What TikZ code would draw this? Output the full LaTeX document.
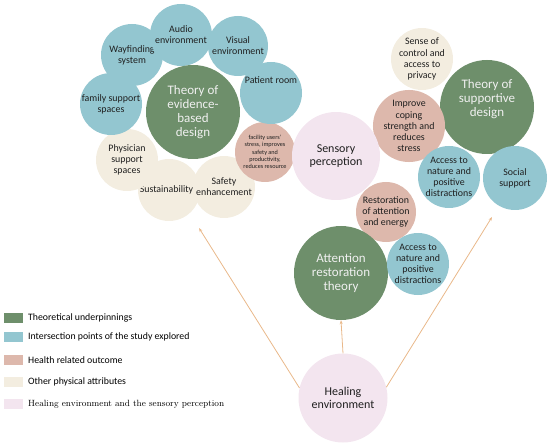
\documentclass[tikz,border=0pt]{standalone}
\usepackage{fontspec}
\setmainfont{Carlito}
\newfontfamily\legendserif{Latin Modern Roman}
\usetikzlibrary{arrows.meta}
\definecolor{theorygreen}{HTML}{6E8F6B}
\definecolor{pointblue}{HTML}{93C6D0}
\definecolor{outcomepink}{HTML}{DDB8AC}
\definecolor{attrcream}{HTML}{F3EDE0}
\definecolor{healinglilac}{HTML}{F3E5EF}
\definecolor{linktan}{HTML}{E9B88A}
\begin{document}
\begin{tikzpicture}[x=1pt, y=-1pt,
  bubble/.style = {circle, inner sep=0pt, align=center, text=black!88,
    minimum size=62pt, font=\fontsize{9.9}{11.1}\selectfont},
  theory/.style = {bubble, fill=theorygreen, minimum size=94pt, text=white!94!black,
    font=\fontsize{13}{14}\selectfont},
  point/.style = {bubble, fill=pointblue},
  outcome/.style = {bubble, fill=outcomepink},
  attribute/.style = {bubble, fill=attrcream},
  healing/.style = {bubble, fill=healinglilac, minimum size=89pt,
    font=\fontsize{12}{13.5}\selectfont},
  link/.style = {draw=linktan, line width=0.8pt, -{Stealth[length=4pt,width=3pt]}},
  swatch/.style = {rectangle, minimum width=19pt, minimum height=10pt, inner sep=0pt},
  legendtext/.style = {anchor=west, inner sep=0pt, font=\fontsize{9.8}{11}\selectfont}]
  \useasboundingbox (0,0) rectangle (550,444);

  \node[attribute] (sustain) at (169,190) {\\[-4pt]Sustainability\hspace*{5pt}};
  \node[attribute] (safety) at (224,187) {Safety\\enhancement};
  \node[attribute] (physician) at (127,160) {Physician\\support\\spaces};
  \node[outcome, minimum size=60pt, font=\fontsize{6.2}{7.3}\selectfont] (facility) at (265,152)
    {facility users'\\stress, improves\\safety and\\productivity,\\reduces resource};
  \node[point] (family) at (111,104) {family support\\spaces};
  \node[point] (wayfinding) at (132,55) {Wayfinding\\system};
  \node[point] (audio) at (181,35) {Audio\\environment};
  \node[point, minimum size=60pt] (visual) at (238,46) {Visual\\environment};
  \node[point] (patient) at (271,93) {Patient room\\[14pt]};
  \node[theory] (evidence) at (193,112) {Theory of\\evidence-\\based\\design};

  \node[attribute] (privacy) at (422,59) {Sense of\\control and\\access to\\privacy};
  \node[theory] (supportive) at (487,107) {Theory of\\supportive\\design\\[4pt]};
  \node[outcome] (coping) at (409,126) {Improve\\coping\\strength and\\reduces\\stress};
  \node[healing, minimum size=88pt] (sensory) at (336,156) {Sensory\\perception};
  \node[point] (nature) at (449,177) {Access to\\nature and\\positive\\distractions};
  \node[point, minimum size=64pt] (social) at (515,178) {Social\\support};
  \node[outcome, minimum size=60pt] (restoration) at (386,212) {Restoration\\of attention\\and energy};
  \node[theory] (attention) at (341,273) {Attention\\restoration\\theory};
  \node[point] (distraction) at (418,264) {Access to\\nature and\\positive\\distractions};
  \node[healing] (environment) at (343,398) {Healing\\environment};

  \coordinate (leftend) at (199,228);
  \coordinate (rightend) at (492,217);
  \draw[link] (environment.167) -- (leftend);
  \draw[link] (environment.14) -- (rightend);
  \draw[link] (environment.north) -- (attention.south);

  \node[swatch, fill=theorygreen] (keytheory) at (13.5,318) {};
  \node[swatch, fill=pointblue] (keypoint) at (13.5,337) {};
  \node[swatch, fill=outcomepink] (keyoutcome) at (13.5,360) {};
  \node[swatch, fill=attrcream] (keyattr) at (13.5,382) {};
  \node[swatch, fill=healinglilac] (keyhealing) at (13.5,404) {};
  \node[legendtext] at (28,318) {Theoretical underpinnings};
  \node[legendtext] at (28,337) {Intersection points of the study explored};
  \node[legendtext] at (28,360) {Health related outcome};
  \node[legendtext] at (28,382) {Other physical attributes};
  \node[legendtext, font=\legendserif\fontsize{9}{10}\selectfont] at (28,404)
    {Healing environment and the sensory perception};
\end{tikzpicture}
\end{document}
